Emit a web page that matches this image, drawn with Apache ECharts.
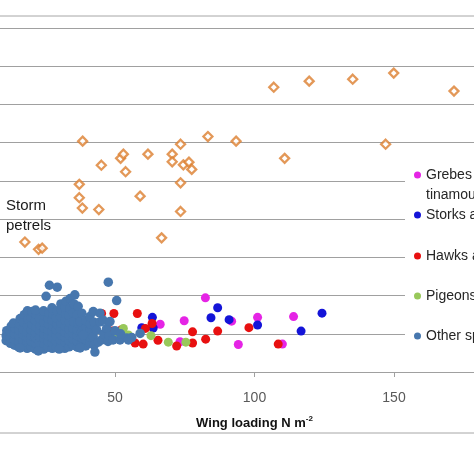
<!DOCTYPE html>
<html>
<head>
<meta charset="utf-8">
<script src="https://cdn.jsdelivr.net/npm/echarts@6/dist/echarts.min.js"></script>
<style>
  html, body { margin: 0; padding: 0; background: #fff; }
  #chart { width: 474px; height: 474px; }
</style>
</head>
<body>
<div id="chart"></div>
<script>
// x axis ticks (wing loading, N m-2)
var xTicks = [0, 50, 100, 150, 200];

// storm petrels and other diamonds [wing loading, y]
var diamonds = [
  [38.4,6.04],[45.1,5.41],[52.0,5.59],[53.0,5.70],[53.8,5.24],[61.8,5.70],
  [70.5,5.70],[70.5,5.50],[73.5,5.96],[74.5,5.42],[76.5,5.49],[77.5,5.30],
  [73.5,4.95],[83.3,6.16],[93.4,6.04],[37.2,4.91],[37.2,4.56],[38.3,4.29],
  [44.2,4.25],[59.0,4.60],[73.5,4.20],[66.7,3.51],[106.9,7.45],[119.6,7.61],
  [135.2,7.66],[149.9,7.82],[171.5,7.35],[110.8,5.59],[147.0,5.96],
  [17.7,3.40],[22.6,3.21],[23.9,3.24]
];

var grebes = [
  [66.2,1.25],[74.8,1.34],[82.4,1.94],[73.3,0.79],[91.8,1.33],
  [94.2,0.72],[101.1,1.43],[114.0,1.45],[110.0,0.73]
];

var storks = [
  [63.4,1.43],[59.6,1.16],[63.7,1.15],[84.4,1.42],[86.8,1.68],
  [90.9,1.37],[101.1,1.23],[116.7,1.07],[124.2,1.54]
];

var hawks = [
  [45.2,1.53],[49.6,1.53],[58.0,1.53],[48.9,1.07],[52.2,1.10],[42.2,0.81],
  [60.9,1.14],[63.3,1.27],[65.4,0.83],[57.2,0.76],[60.1,0.73],[72.1,0.68],
  [77.8,1.05],[77.8,0.76],[82.5,0.86],[86.8,1.07],[98.0,1.16],[108.5,0.73]
];

var pigeons = [
  [49.5,0.97],[53.0,1.14],[54.8,0.97],[62.9,0.95],[69.1,0.78],[75.4,0.78]
];

var otherSpecies = [
  [11,0.82],[11,0.95],[11.2,1.08],
  [12.5,0.75],[12.5,0.9],[12.5,1.05],[12.8,1.2],
  [14,0.7],[14,0.85],[14,1.0],[14.2,1.15],[13.6,1.28],
  [15.5,0.65],[15.5,0.8],[15.5,0.95],[15.5,1.1],[15.8,1.25],[16,1.4],
  [17,0.68],[17,0.82],[17,0.98],[17,1.12],[17.2,1.3],[17.5,1.5],
  [18.5,0.62],[18.5,0.78],[18.5,0.92],[18.5,1.05],[18.7,1.2],[18.8,1.38],[18.6,1.6],
  [20,0.65],[20,0.8],[20,0.95],[20,1.1],[20.2,1.25],[20,1.42],[20.3,1.58],
  [21.5,0.6],[21.5,0.75],[21.5,0.9],[21.5,1.02],[21.7,1.18],[21.5,1.35],[21.8,1.5],[21.5,1.62],
  [23,0.62],[23,0.78],[23,0.92],[23,1.08],[23.2,1.22],[23,1.4],
  [24.5,0.6],[24.5,0.74],[24.5,0.88],[24.5,1.0],[24.7,1.15],[24.5,1.3],[24.8,1.48],[24.4,1.6],
  [26,0.65],[26,0.8],[26,0.95],[26,1.1],[26.2,1.25],[26,1.4],[26.3,1.55],
  [27.5,0.62],[27.5,0.76],[27.5,0.9],[27.5,1.05],[27.7,1.2],[27.5,1.35],[27.8,1.52],[27.4,1.68],
  [29,0.64],[29,0.8],[29,0.95],[29,1.1],[29.2,1.25],[29,1.42],[29.3,1.6],
  [30.5,0.66],[30.5,0.82],[30.5,0.98],[30.5,1.12],[30.7,1.28],[30.5,1.45],[30.8,1.62],[30.6,1.78],
  [32,0.62],[32,0.78],[32,0.92],[32,1.05],[32.2,1.2],[32,1.36],[32.3,1.52],[32.1,1.7],[32.4,1.85],
  [33.5,0.66],[33.5,0.82],[33.5,0.96],[33.5,1.12],[33.7,1.3],[33.5,1.48],[33.8,1.66],[33.9,1.92],
  [35,0.7],[35,0.86],[35,1.0],[35,1.15],[35.2,1.32],[35,1.55],[35.3,1.78],[35.6,2.02],
  [36.5,0.65],[36.5,0.8],[36.5,0.95],[36.5,1.1],[36.7,1.28],[36.5,1.5],[36.8,1.72],
  [38,0.72],[38,0.9],[38,1.05],[38.2,1.22],[37.5,1.32],[38.1,1.54],
  [39.5,0.68],[39.5,0.85],[39.5,1.0],[39.7,1.18],[39.5,1.35],
  [41,0.75],[41,0.92],[41,1.08],[41.2,1.25],[41,1.45],
  [42.2,0.92],[42.5,0.7],[42.2,1.58],[42.5,1.3],[43.4,1.1],[42.8,0.52],
  [44,0.78],[44.6,1.54],[44.6,1.31],[45.2,0.84],[45.7,1.36],
  [46,1.0],[47,1.14],[47.5,0.8],[48.2,1.32],[48,0.95],
  [49.3,0.84],[50,1.08],[51.8,0.84],[52,1.0],[54.2,0.89],[54.8,0.84],[56,0.9],[59,1.01],
  [26.5,2.27],[29.3,2.22],[25.3,1.98],[47.6,2.35],[50.6,1.87],[38.6,0.97],
  [22.5,0.55],[37.5,0.63],[30,0.6],[16,0.63]
];

var seriesNames = ['Grebes and tinamous', 'Storks and herons', 'Hawks and falcons', 'Pigeons and doves', 'Other species'];
var seriesColors = ['#E524E5', '#1414D8', '#E81010', '#98C85A', '#4777AE'];
var legendY = [175, 215, 256, 296, 336];

var myChart = echarts.init(document.getElementById('chart'));
var font = '"Liberation Sans", Arial, sans-serif';

var legends = seriesNames.map(function(name, i) {
  return {
    data: [name],
    orient: 'vertical',
    left: 414,
    top: legendY[i] - 8,
    padding: 0,
    itemWidth: 7,
    itemHeight: 7,
    icon: 'circle',
    selectedMode: false,
    formatter: function(n) {
      return n === 'Grebes and tinamous' ? 'Grebes and' : n;
    },
    textStyle: { fontFamily: font, fontSize: 14, lineHeight: 16, color: '#262626' }
  };
});

var dotData = [grebes, storks, hawks, pigeons, otherSpecies];
var series = [{
  name: 'Storm petrels',
  type: 'scatter',
  data: diamonds,
  symbol: 'diamond',
  symbolSize: 9,
  itemStyle: { color: '#ffffff', borderColor: '#DC7E2E', borderWidth: 2.3 }
}];
dotData.forEach(function(d, i) {
  series.push({
    name: seriesNames[i],
    type: 'scatter',
    data: d,
    symbol: 'circle',
    symbolSize: i === 4 ? 9.5 : 9,
    itemStyle: { color: seriesColors[i], opacity: 1 }
  });
});

var option = {
  animation: false,
  backgroundColor: '#ffffff',
  grid: { left: -24.5, right: -59.5, top: 28, bottom: 102, outerBoundsMode: 'none' },
  legend: legends,
  xAxis: {
    type: 'value',
    min: xTicks[0],
    max: xTicks[xTicks.length - 1],
    interval: 50,
    name: '{b|Wing loading N m}{s|-2}',
    nameLocation: 'middle',
    nameGap: 43,
    nameTextStyle: {
      rich: {
        b: { fontFamily: font, fontSize: 13, fontWeight: 'bold', color: '#111' },
        s: { fontFamily: font, fontSize: 8, fontWeight: 'bold', color: '#111', verticalAlign: 'top', padding: [0, 0, 8, 0] }
      }
    },
    axisLine: { lineStyle: { color: '#A0A0A0', width: 1 } },
    axisTick: { show: true, length: 5, lineStyle: { color: '#A0A0A0' } },
    axisLabel: { margin: 19, fontFamily: font, fontSize: 14, color: '#595959' },
    splitLine: { show: false }
  },
  yAxis: {
    type: 'value',
    min: 0,
    max: 9,
    interval: 1,
    axisLine: { show: false },
    axisTick: { show: false },
    axisLabel: { show: false },
    splitLine: { lineStyle: { color: '#A0A0A0', width: 1.2 } }
  },
  graphic: [
    { type: 'rect', z: 1, shape: { x: 405, y: 160, width: 70, height: 192 }, style: { fill: '#ffffff' } },
    { type: 'line', shape: { x1: 0, y1: 16, x2: 474, y2: 16 }, style: { stroke: '#A6A6A6', lineWidth: 1 } },
    { type: 'line', shape: { x1: 0, y1: 433, x2: 474, y2: 433 }, style: { stroke: '#A6A6A6', lineWidth: 1 } },
    { type: 'text', z: 5, x: 426, y: 188, style: { text: 'tinamous', font: '14px ' + font, fill: '#262626' } },
    { type: 'text', z: 5, x: 6, y: 196, style: { text: 'Storm\npetrels', font: '15px ' + font, lineHeight: 20, fill: '#1a1a1a' } }
  ],
  series: series
};

myChart.setOption(option);
</script>
</body>
</html>
